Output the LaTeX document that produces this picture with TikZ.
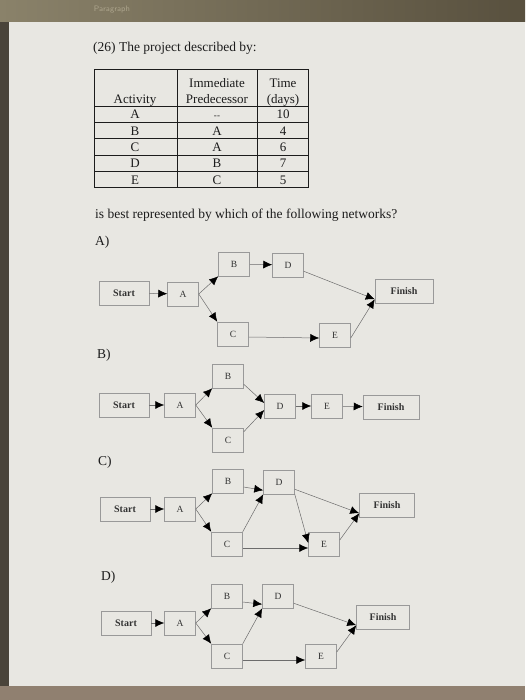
\documentclass[tikz,border=0pt]{standalone}
\usepackage{fontspec}
\setmainfont{Liberation Serif}
\usetikzlibrary{arrows.meta,positioning}

\definecolor{pagebg}{RGB}{232,231,226}
\definecolor{barleft}{RGB}{138,130,106}
\definecolor{barright}{RGB}{88,80,62}
\definecolor{bartext}{RGB}{172,164,140}
\definecolor{edgedark}{RGB}{74,68,58}
\definecolor{ink}{RGB}{28,28,28}

\begin{document}
\begin{tikzpicture}[x=1pt, y=-1pt,
    box/.style={draw=gray!80, line width=0.5pt, minimum width=31pt, minimum height=24pt,
      inner sep=0pt, font=\fontsize{9.5}{10}\selectfont, text=black!80},
    endbox/.style={box, minimum width=50pt, font=\fontsize{10}{11}\selectfont\bfseries},
    arr/.style={draw=gray!85!black, line width=0.5pt,
      -{Latex[length=9pt, width=8pt, color=black]}},
    cell/.style={font=\fontsize{13}{14}\selectfont, text=ink, inner sep=0pt, anchor=base},
    txt/.style={font=\fontsize{13.5}{15}\selectfont, text=ink, inner sep=0pt, anchor=west}]

  % Screen, page and toolbar
  \fill[pagebg] (0,0) rectangle (525,700);
  \shade[left color=barleft, right color=barright] (0,0) rectangle (525,22);
  \fill[edgedark] (0,22) rectangle (9,686);
  \fill[gray!75!brown] (0,686) rectangle (525,700);
  \node[font=\sffamily\fontsize{8}{9}\selectfont, text=bartext, inner sep=0pt] (bar) at (112,10) {Paragraph};

  % Question
  \node[txt] (title) at (93,48) {(26) The project described by:};

  % Table
  \draw[ink, line width=1pt] (94,70) rectangle (308,188);
  \draw[ink, line width=0.6pt] (177,70) -- (177,188) (257,70) -- (257,188);
  \foreach \y in {106,122.4,138.8,155.2,171.6}
    \draw[ink, line width=0.6pt] (94,\y) -- (308,\y);
  \node[cell] (hact) at (135,104) {Activity};
  \node[cell] (hpre1) at (217,88) {Immediate};
  \node[cell] (hpre2) at (217,104) {Predecessor};
  \node[cell] (htime1) at (283,88) {Time};
  \node[cell] (htime2) at (283,104) {(days)};
  \foreach \act/\pre/\t [count=\i] in {A/{\fontsize{9}{9}\selectfont-\kern0.3pt-}, B/A/4, C/A/6, D/B/7, E/C/5} {
    \node[cell] (act\i) at (135,{106+16.4*(\i-0.5)+4.6}) {\act};
    \node[cell] (pre\i) at (217,{106+16.4*(\i-0.5)+4.6}) {\pre};
  }
  \foreach \t [count=\i] in {10,4,6,7,5}
    \node[cell] (time\i) at (283,{106+16.4*(\i-0.5)+4.6}) {\t};

  \node[txt] (ask) at (95,215) {is best represented by which of the following networks?};

  % Network A
  \node[txt] (labA) at (95,242) {A)};
  \node[endbox] (Astart) at (124,293) {Start};
  \node[box] (AA) at (183,294) {A};
  \node[box] (AB) at (234,264) {B};
  \node[box] (AD) at (288,265) {D};
  \node[box] (AC) at (233,334) {C};
  \node[box] (AE) at (335,335) {E};
  \node[endbox, minimum width=58pt] (Afin) at (404,291) {Finish};
  \draw[arr] (Astart) -- (AA);
  \draw[arr] (AA.east) -- (AB.south west);
  \draw[arr] (AA.east) -- (AC.north west);
  \draw[arr] (AB) -- (AD);
  \draw[arr] ([yshift=-3pt]AC.east) -- ([yshift=-3pt]AE.west);
  \draw[arr] ([yshift=6pt]AD.south east) -- ([yshift=4pt]Afin.south west);
  \draw[arr] ([yshift=-3pt]AE.east) -- ([yshift=4pt]Afin.south west);

  % Network B
  \node[txt] (labB) at (97,355) {B)};
  \node[endbox] (Bstart) at (124,405) {Start};
  \node[box] (BA) at (180,405) {A};
  \node[box] (BB) at (228,376) {B};
  \node[box] (BC) at (228,440) {C};
  \node[box] (BD) at (280,406) {D};
  \node[box] (BE) at (327,406) {E};
  \node[endbox, minimum width=56pt] (Bfin) at (391,407) {Finish};
  \draw[arr] (Bstart) -- (BA);
  \draw[arr] (BA.east) -- (BB.south west);
  \draw[arr] (BA.east) -- (BC.north west);
  \draw[arr] ([yshift=4pt]BB.south east) -- ([yshift=3pt]BD.west);
  \draw[arr] ([yshift=-4pt]BC.north east) -- ([yshift=-4pt]BD.west);
  \draw[arr] (BD) -- (BE);
  \draw[arr] (BE) -- (Bfin);

  % Network C
  \node[txt] (labC) at (98,462) {C)};
  \node[endbox] (Cstart) at (125,509) {Start};
  \node[box] (CA) at (180,509) {A};
  \node[box] (CB) at (228,481) {B};
  \node[box] (CD) at (279,482) {D};
  \node[box] (CC) at (227,544) {C};
  \node[box] (CE) at (324,544) {E};
  \node[endbox, minimum width=55pt] (Cfin) at (387,505) {Finish};
  \draw[arr] (Cstart) -- (CA);
  \draw[arr] (CA.east) -- (CB.south west);
  \draw[arr] (CA.east) -- (CC.north west);
  \draw[arr] ([yshift=-6pt]CB.east) -- ([yshift=4pt]CD.south west);
  \draw[arr] (CC.north east) -- (CD.south west);
  \draw[arr] ([yshift=5pt]CD.south east) -- ([yshift=4pt]Cfin.south west);
  \draw[arr] (CD.south east) -- ([yshift=1pt]CE.west);
  \draw[arr] ([yshift=-4pt]CC.east) -- ([yshift=-4pt]CE.west);
  \draw[arr] ([yshift=4pt]CE.east) -- ([yshift=4pt]Cfin.south west);

  % Network D
  \node[txt] (labD) at (101,577) {D)};
  \node[endbox] (Dstart) at (126,623) {Start};
  \node[box] (DA) at (180,623) {A};
  \node[box] (DB) at (227,596) {B};
  \node[box] (DD) at (278,596) {D};
  \node[box] (DC) at (227,656) {C};
  \node[box] (DE) at (321,656) {E};
  \node[endbox, minimum width=53pt] (Dfin) at (383,617) {Finish};
  \draw[arr] (Dstart) -- (DA);
  \draw[arr] (DA.east) -- (DB.south west);
  \draw[arr] (DA.east) -- (DC.north west);
  \draw[arr] ([yshift=-6pt]DB.east) -- ([yshift=4pt]DD.south west);
  \draw[arr] (DC.north east) -- (DD.south west);
  \draw[arr] ([yshift=5pt]DD.south east) -- ([yshift=4pt]Dfin.south west);
  \draw[arr] ([yshift=-4pt]DC.east) -- ([yshift=-4pt]DE.west);
  \draw[arr] ([yshift=4pt]DE.east) -- ([yshift=4pt]Dfin.south west);
\end{tikzpicture}
\end{document}
